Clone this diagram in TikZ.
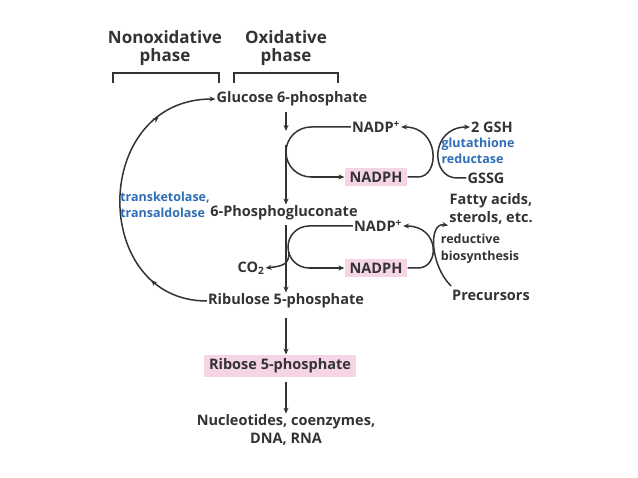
\documentclass[tikz,border=0pt]{standalone}
\usepackage{fontspec}
\setmainfont{Open Sans}
\usetikzlibrary{arrows.meta,decorations.markings}
\definecolor{eblue}{HTML}{2E6DB4}
\definecolor{epink}{HTML}{F5D5E5}
\definecolor{ink}{HTML}{333333}
\begin{document}
\begin{tikzpicture}[x=1pt,y=-1pt,
  t/.style={font=\fontsize{14.5}{17.5}\selectfont\bfseries, text=ink, inner sep=1pt},
  h/.style={font=\fontsize{17}{18.5}\selectfont\bfseries, text=ink, align=center, inner sep=0pt},
  bl/.style={font=\fontsize{12.5}{16.5}\selectfont\bfseries, text=eblue, align=left, inner sep=0pt},
  gr/.style={font=\fontsize{12.5}{16.5}\selectfont\bfseries, text=ink, align=left, inner sep=0pt},
  pk/.style={t, fill=epink, inner xsep=5pt, inner ysep=4pt},
  ln/.style={draw=ink, line width=1.5pt},
  ar/.style={ln, -{Stealth[length=6pt,width=5pt]}},
  mid/.style={postaction={decorate}, decoration={markings,
     mark=at position 0.2 with {\arrow{Stealth[length=6pt,width=5pt]}},
     mark=at position 0.8 with {\arrow{Stealth[length=6pt,width=5pt]}}}}]
\useasboundingbox (0,0) rectangle (638,478);
% headers
\node[h] (non) at (165,48) {Nonoxidative\\phase};
\node[h] (oxi) at (286,48) {Oxidative\\phase};
\draw[ln] (113,83) -- (113,73) -- (219,73) -- (219,83);
\draw[ln] (234,83) -- (234,73) -- (338,73) -- (338,83);
% main chain
\node[t] (g6p) at (292,99) {Glucose 6-phosphate};
\node[t] (pg) at (284,213) {6-Phosphogluconate};
\node[t] (r5p) at (286,301) {Ribulose 5-phosphate};
\node[pk] (ri5p) at (280,366) {Ribose 5-phosphate};
\node[t, align=center] (nuc) at (286,430) {Nucleotides, coenzymes,\\DNA, RNA};
\coordinate (a1) at (286,112); \coordinate (a2) at (286,131);
\draw[ar] (a1) -- (a2);
\coordinate (b1) at (286,145);
\draw[ar] (b1) -- (pg.north -| b1);
\coordinate (c1) at (286,225);
\draw[ar] (c1) -- (r5p.north -| c1);
\coordinate (d1) at (286,318);
\draw[ar] (d1) -- (ri5p.north -| d1);
\coordinate (e1) at (286,382);
\draw[ar] (e1) -- (nuc.north -| e1);
% upper NADP loop
\node[t] (np1) at (376,127) {NADP\textsuperscript{+}};
\node[pk] (nh1) at (376,177) {NADPH};
\draw[ln] (np1.west) -- (311,127) arc[start angle=270,end angle=90,radius=25] -- (311,177);
\draw[ar] (311,177) -- (nh1.west);
\node[t] (gsh) at (492,127) {2 GSH};
\node[t] (gssg) at (486,178) {GSSG};
\node[bl] (gr) at (478,151) {glutathione\\reductase};
\draw[ar] (nh1.east) -- (418,177) .. controls (440,177) and (440,127) .. (np1.east);
\draw[ar] (gssg.west) -- (457,178) .. controls (430,178) and (430,127) .. (gsh.west);
% lower NADP loop
\node[t] (np2) at (378,226) {NADP\textsuperscript{+}};
\node[pk] (nh2) at (376,268) {NADPH};
\draw[ln] (np2.west) -- (309,226) arc[start angle=270,end angle=90,radius=21] -- (309,268);
\draw[ar] (309,268) -- (nh2.west);
\node[t] (co2) at (251,268) {CO\textsubscript{2}};
\draw[ar] (289,252) .. controls (289,264) and (284,266) .. (co2.east);
\node[t, align=center] (fa) at (491,209) {Fatty acids,\\sterols, etc.};
\node[t] (pre) at (491,295) {Precursors};
\node[gr] (rb) at (480,249) {reductive\\biosynthesis};
\draw[ar] (nh2.east) -- (418,268) .. controls (440,268) and (440,226) .. (np2.east);
\coordinate (pr) at (451,286);
\draw[ar] (pr) .. controls (430,265) and (428,222) .. (fa.south west);
% side arc
\node[bl] (tk) at (165,205) {transketolase,\\transaldolase};
\draw[ln, mid, -{Stealth[length=6pt,width=5pt]}] (r5p.west) .. controls (90,301) and (90,99) .. (g6p.west);
\end{tikzpicture}
\end{document}
